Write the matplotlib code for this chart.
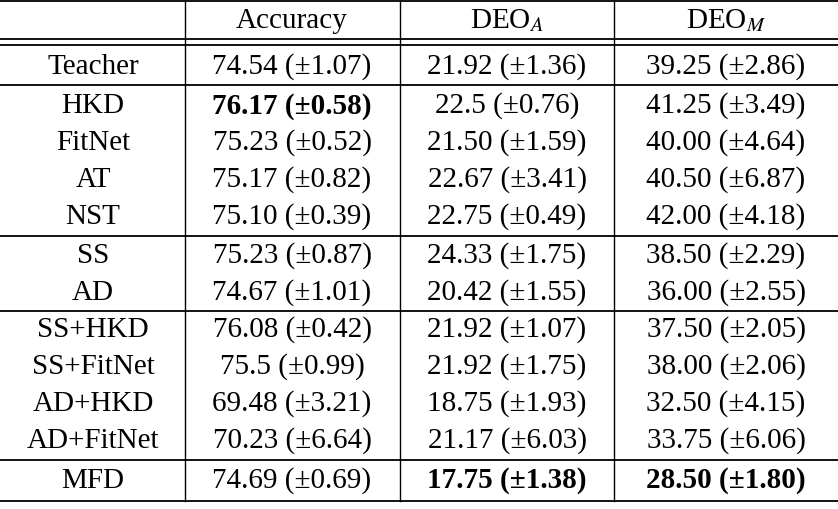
import matplotlib
matplotlib.use("Agg")
import matplotlib.pyplot as plt

plt.rcParams['font.family'] = ['Liberation Serif', 'DejaVu Serif']
plt.rcParams['mathtext.fontset'] = 'stix'

headers = ["", "Accuracy", r"DEO$_{A}$", r"DEO$_{M}$"]
methods = ["Teacher", "HKD", "FitNet", "AT", "NST", "SS", "AD",
           "SS+HKD", "SS+FitNet", "AD+HKD", "AD+FitNet", "MFD"]
accuracy = ["74.54 (±1.07)", "76.17 (±0.58)", "75.23 (±0.52)", "75.17 (±0.82)",
            "75.10 (±0.39)", "75.23 (±0.87)", "74.67 (±1.01)", "76.08 (±0.42)",
            "75.5 (±0.99)", "69.48 (±3.21)", "70.23 (±6.64)", "74.69 (±0.69)"]
deo_a = ["21.92 (±1.36)", "22.5 (±0.76)", "21.50 (±1.59)", "22.67 (±3.41)",
         "22.75 (±0.49)", "24.33 (±1.75)", "20.42 (±1.55)", "21.92 (±1.07)",
         "21.92 (±1.75)", "18.75 (±1.93)", "21.17 (±6.03)", "17.75 (±1.38)"]
deo_m = ["39.25 (±2.86)", "41.25 (±3.49)", "40.00 (±4.64)", "40.50 (±6.87)",
         "42.00 (±4.18)", "38.50 (±2.29)", "36.00 (±2.55)", "37.50 (±2.05)",
         "38.00 (±2.06)", "32.50 (±4.15)", "33.75 (±6.06)", "28.50 (±1.80)"]
bold = {(1, 1), (11, 2), (11, 3)}

fig = plt.figure(figsize=(8.38, 5.10), dpi=100)
ax = fig.add_axes([0, 0, 1, 1])
ax.set_xlim(0, 838); ax.set_ylim(510, 0); ax.axis('off')

col_x = [93, 292, 507, 726]
vlines = [185, 400, 614]
row_y = [67, 106, 143, 180, 217, 256, 293, 330, 367, 404, 441, 481]
fs = 21

for x, h in zip(col_x, headers):
    ax.text(x, 21, h, ha='center', va='center', fontsize=fs)
cols = [methods, accuracy, deo_a, deo_m]
for i, y in enumerate(row_y):
    for j, c in enumerate(cols):
        ax.text(col_x[j], y, c[i], ha='center', va='center', fontsize=fs,
                fontweight='bold' if (i, j) in bold else 'normal')

lw = 1.3
for y in [2, 40, 46, 86, 237, 312, 461, 502]:
    ax.plot([0, 838], [y, y], color='black', lw=lw)
for x in vlines:
    ax.plot([x, x], [2, 502], color='black', lw=1.0)

fig.savefig("out.png", dpi=100)
